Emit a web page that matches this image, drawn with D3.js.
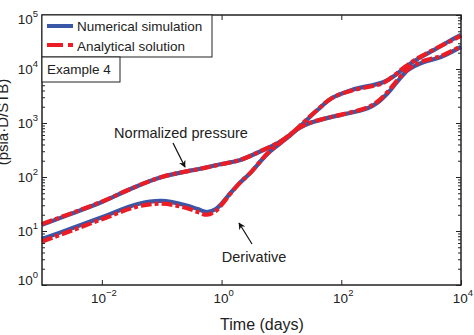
<!DOCTYPE html>
<html>
<head>
<meta charset="utf-8">
<script src="https://cdn.jsdelivr.net/npm/d3@7"></script>
<style>
  body { margin: 0; background: #fff; }
  svg { display: block; font-family: "Liberation Sans", Arial, sans-serif; }
</style>
</head>
<body>
<svg id="chart" width="474" height="335"></svg>
<script>
// time (days) and values (psia.D/STB)
var presTime = [0.001, 0.003, 0.01, 0.03, 0.1, 0.5, 1, 2, 5, 10, 20, 30, 70, 100, 280, 395, 600, 850, 1300, 2400, 4600, 10000];
var presNum  = [13, 20.6, 34.5, 60, 100, 147, 174, 205, 316, 464, 810, 1000, 1300, 1410, 1900, 2345, 3600, 5700, 9600, 13500, 16600, 25600];
var presAna  = [13.5, 21, 35, 60, 100, 146, 173, 205, 318, 470, 820, 1010, 1310, 1430, 1950, 2450, 3800, 6100, 9900, 14200, 17300, 26500];

var derTime = [0.001, 0.003, 0.01, 0.04, 0.1, 0.25, 0.4, 0.57, 0.8, 1, 1.4, 2, 3, 6, 13, 20, 40, 70, 150, 500, 800, 1200, 2000, 3500, 6000, 10000];
var derNum  = [7.1, 11, 18, 31.6, 36, 30, 25.5, 22.5, 25.6, 32, 50, 77, 118, 277, 550, 850, 1740, 2900, 4100, 5700, 7700, 11000, 16000, 22400, 31600, 42700];
var derAna  = [6.4, 10, 16.5, 28.5, 32, 27, 22.5, 20, 23.5, 30.5, 49, 77, 118, 280, 560, 870, 1760, 2900, 4000, 5500, 7900, 11300, 16400, 22800, 31000, 41000];

var xTicks = [1e-2, 1, 1e2, 1e4];
var xTickExp = ["\u22122", "0", "2", "4"];
var yTicks = [1, 10, 100, 1000, 10000, 100000];
var yTickExp = ["0", "1", "2", "3", "4", "5"];

var BLUE = "#3a57a7";
var RED = "#ec1c24";

var svg = d3.select("#chart");
var pLeft = 42, pRight = 461, pTop = 15, pBottom = 285;

var x = d3.scaleLog().domain([1e-3, 1e4]).range([pLeft, pRight]);
var y = d3.scaleLog().domain([1, 1e5]).range([pBottom, pTop]);

// minor ticks on y
var yMinor = [];
for (var e = 0; e < 5; e++)
    for (var k = 2; k < 10; k++) yMinor.push(k * Math.pow(10, e));

function tickAxis(axis, tx, ty, vals, size) {
    svg.append("g")
        .attr("transform", "translate(" + tx + "," + ty + ")")
        .call(axis.tickValues(vals).tickSize(size).tickSizeOuter(0).tickFormat(""))
        .call(function(g) { g.select(".domain").remove(); })
        .selectAll("line").attr("stroke", "#222").attr("stroke-width", 1);
}
tickAxis(d3.axisBottom(x), 0, pBottom, xTicks, -5);
tickAxis(d3.axisTop(x), 0, pTop, xTicks, -5);
tickAxis(d3.axisLeft(y), pLeft, 0, yTicks, -5);
tickAxis(d3.axisRight(y), pRight, 0, yTicks, -5);
tickAxis(d3.axisLeft(y), pLeft, 0, yMinor, -3);
tickAxis(d3.axisRight(y), pRight, 0, yMinor, -3);

// curves
var line = d3.line()
    .x(function(d) { return x(d[0]); })
    .y(function(d) { return y(d[1]); })
    .curve(d3.curveCatmullRom.alpha(0.5));

function series(t, v) { return t.map(function(d, i) { return [d, v[i]]; }); }

[[presTime, presNum], [derTime, derNum]].forEach(function(s) {
    svg.append("path").attr("d", line(series(s[0], s[1])))
        .attr("fill", "none").attr("stroke", BLUE).attr("stroke-width", 4.2);
});
[[presTime, presAna], [derTime, derAna]].forEach(function(s) {
    svg.append("path").attr("d", line(series(s[0], s[1])))
        .attr("fill", "none").attr("stroke", RED).attr("stroke-width", 4.2)
        .attr("stroke-dasharray", "11,3,4,3");
});

// frame
svg.append("rect")
    .attr("x", pLeft).attr("y", pTop)
    .attr("width", pRight - pLeft).attr("height", pBottom - pTop)
    .attr("fill", "none").attr("stroke", "#222").attr("stroke-width", 1.5);

// tick labels
xTicks.forEach(function(v, i) {
    var t = svg.append("text")
        .attr("x", x(v) + 2).attr("y", 303)
        .attr("text-anchor", "middle")
        .style("font-size", "13.5px").attr("fill", "#222");
    t.append("tspan").text("10");
    t.append("tspan").attr("dy", -7).style("font-size", "9.5px").text(xTickExp[i]);
});
yTicks.forEach(function(v, i) {
    var yy = y(v) + 5;
    if (i == 0) yy -= 5;
    if (i == yTicks.length - 1) yy += 4;
    var t = svg.append("text")
        .attr("x", 38).attr("y", yy)
        .attr("text-anchor", "end")
        .style("font-size", "13.5px").attr("fill", "#222");
    t.append("tspan").text("10");
    t.append("tspan").attr("dy", -7).style("font-size", "9.5px").text(yTickExp[i]);
});

// axis titles
svg.append("text")
    .attr("x", 262).attr("y", 330)
    .attr("text-anchor", "middle")
    .style("font-size", "16px").attr("fill", "#222")
    .text("Time (days)");

svg.append("text")
    .attr("transform", "translate(8,122) rotate(-90)")
    .attr("text-anchor", "middle")
    .style("font-size", "15px").attr("fill", "#222")
    .text("(psia\u00b7D/STB)");

// annotations
svg.append("defs").append("marker")
    .attr("id", "arrow")
    .attr("viewBox", "0 0 10 10")
    .attr("refX", 9).attr("refY", 5)
    .attr("markerWidth", 7).attr("markerHeight", 7)
    .attr("markerUnits", "userSpaceOnUse")
    .attr("orient", "auto")
    .append("path").attr("d", "M0,0 L10,5 L0,10 L3,5 Z").attr("fill", "#111");

svg.append("text")
    .attr("x", 181).attr("y", 138)
    .attr("text-anchor", "middle")
    .style("font-size", "14.5px").attr("fill", "#222")
    .text("Normalized pressure");
svg.append("line")
    .attr("x1", 173).attr("y1", 143).attr("x2", 185).attr("y2", 167)
    .attr("stroke", "#111").attr("stroke-width", 1.2)
    .attr("marker-end", "url(#arrow)");

svg.append("text")
    .attr("x", 254).attr("y", 262)
    .attr("text-anchor", "middle")
    .style("font-size", "14.5px").attr("fill", "#222")
    .text("Derivative");
svg.append("line")
    .attr("x1", 252).attr("y1", 244).attr("x2", 239).attr("y2", 223)
    .attr("stroke", "#111").attr("stroke-width", 1.2)
    .attr("marker-end", "url(#arrow)");

// legend
var lg = svg.append("g");
lg.append("rect").attr("x", pLeft).attr("y", pTop).attr("width", 170).attr("height", 42)
    .attr("fill", "#fff").attr("stroke", "#222").attr("stroke-width", 1);
lg.append("line").attr("x1", 47).attr("x2", 73).attr("y1", 26).attr("y2", 26)
    .attr("stroke", BLUE).attr("stroke-width", 4);
lg.append("line").attr("x1", 47).attr("x2", 73).attr("y1", 45).attr("y2", 45)
    .attr("stroke", RED).attr("stroke-width", 4).attr("stroke-dasharray", "16,5,5,50");
lg.append("text").attr("x", 77).attr("y", 31)
    .style("font-size", "13.5px").attr("fill", "#222").text("Numerical simulation");
lg.append("text").attr("x", 77).attr("y", 51)
    .style("font-size", "13.5px").attr("fill", "#222").text("Analytical solution");

// example box
svg.append("rect").attr("x", pLeft).attr("y", 57).attr("width", 78).attr("height", 25)
    .attr("fill", "#fff").attr("stroke", "#222").attr("stroke-width", 1);
svg.append("text").attr("x", 47).attr("y", 74)
    .style("font-size", "13.5px").attr("fill", "#222").text("Example 4");
</script>
</body>
</html>
